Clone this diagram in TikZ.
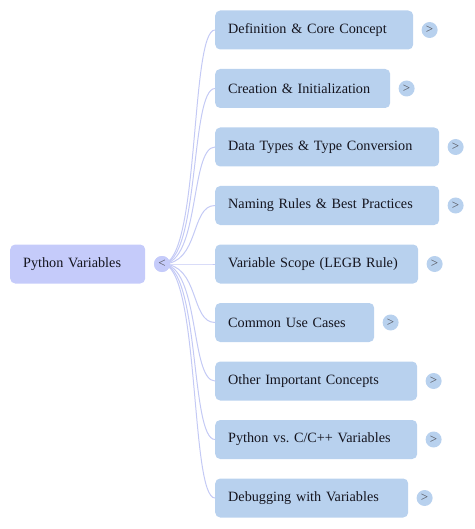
\documentclass[tikz,border=0pt]{standalone}
\usepackage{fontspec}
\setmainfont{Liberation Serif}
\usepackage{tikz}
\usepackage{xcolor}
\usetikzlibrary{positioning, shapes, arrows.meta, calc}
\definecolor{MapRoot}{RGB}{197,203,250}
\definecolor{MapLeaf}{RGB}{184,209,238}
\definecolor{MapLink}{RGB}{196,202,245}
\definecolor{MapText}{RGB}{20,20,30}
\frenchspacing

\begin{document}
\begin{tikzpicture}[x=1pt, y=-1pt,
  root/.style={rectangle, rounded corners=5pt, fill=MapRoot, anchor=west, text width=#1, align=left, minimum height=39pt, inner xsep=13pt, inner ysep=0pt, font=\fontsize{14.2}{17}\selectfont, text=MapText},
  box/.style={rectangle, rounded corners=5pt, fill=MapLeaf, anchor=west, text width=#1, align=left, minimum height=39pt, inner xsep=13pt, inner ysep=0pt, font=\fontsize{14.2}{17}\selectfont, text=MapText},
  toggle/.style={circle, fill=#1, minimum size=16pt, inner sep=0pt, font=\fontsize{13}{13}\selectfont, text=MapText!75},
  link/.style={draw=MapLink, line width=1pt}
]
\useasboundingbox (0,0) rectangle (474,529);

\node[root=109pt] (python) at (10,264) {Python Variables};
\node[toggle=MapRoot] (python-t) at (162,264) {};

\node[box=172pt] (defn) at (215,30) {Definition \& Core Concept};
\node[box=149pt] (create) at (215,88.5) {Creation \& Initialization};
\node[box=198pt] (types) at (215,147) {Data Types \& Type Conversion};
\node[box=198pt] (naming) at (215,205.5) {Naming Rules \& Best Practices};
\node[box=177pt] (scope) at (215,264) {Variable Scope (LEGB Rule)};
\node[box=133pt] (usecase) at (215,322.5) {Common Use Cases};
\node[box=176pt] (other) at (215,381) {Other Important Concepts};
\node[box=176pt] (compare) at (215,439.5) {Python vs. C/C++ Variables};
\node[box=167pt] (debug) at (215,498) {Debugging with Variables};

% links from the toggle to every branch
\foreach \n in {defn, create, types, naming, scope, usecase, other, compare, debug}
  \draw[link] (python-t.center) .. controls +(38,0) and +(-25,0) .. (\n.west);

\node[toggle=MapRoot] at (python-t) {<};

% expand toggles
\foreach \n in {defn, create, types, naming, scope, usecase, other, compare, debug}
  \node[toggle=MapLeaf, right=8pt of \n] (\n-t) {>};

\end{tikzpicture}
\end{document}
